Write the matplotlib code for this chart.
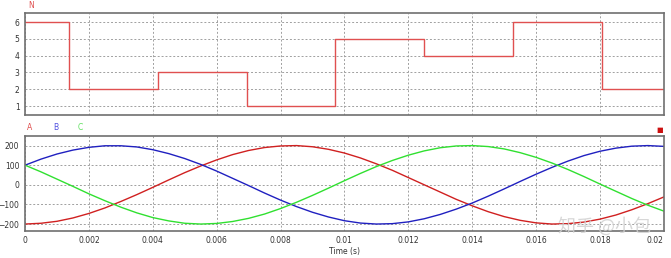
import numpy as np
import matplotlib.pyplot as plt

plt.rcParams['font.family'] = ['DejaVu Sans', 'Noto Sans CJK SC']

# sector number N (step signal)
n_t = [0, 0.00139, 0.00417, 0.00694, 0.00972, 0.0125, 0.01528, 0.01806, 0.02]
n_val = [6, 2, 3, 1, 5, 4, 6, 2, 2]

# phase voltages, sampled every 0.0005 s
t = np.arange(41) * 0.0005
va = [-200, -196, -186, -169, -146, -118, -85, -50, -13, 25, 62, 96, 127, 154,
      175, 190, 198, 200, 194, 181, 162, 137, 107, 74, 37, 0, -37, -74, -107,
      -137, -162, -181, -194, -200, -198, -190, -175, -154, -127, -96, -62]
vb = [100, 131, 157, 177, 191, 199, 199, 193, 179, 159, 134, 104, 70, 33, -4,
      -42, -78, -111, -140, -164, -183, -195, -200, -198, -189, -173, -151,
      -124, -93, -58, -21, 17, 54, 89, 121, 149, 171, 187, 197, 200, 196]
vc = [100, 66, 29, -8, -46, -81, -114, -143, -167, -184, -196, -200, -197,
      -187, -171, -149, -121, -89, -54, -17, 21, 58, 93, 124, 151, 173, 189,
      198, 200, 195, 183, 164, 140, 111, 78, 42, 4, -33, -70, -104, -134]

xticks = np.arange(0, 0.0201, 0.002)
xlabels = ['0', '0.002', '0.004', '0.006', '0.008', '0.01', '0.012', '0.014',
           '0.016', '0.018', '0.02']

fig = plt.figure(figsize=(6.71, 2.58), dpi=100)
ax1 = fig.add_axes([0.0373, 0.554, 0.952, 0.395])
ax2 = fig.add_axes([0.0373, 0.105, 0.952, 0.368])

def style(ax):
    for s in ax.spines.values():
        s.set_color('#707070')
        s.set_linewidth(1.2)
    ax.grid(True, color='#a0a0a0', linestyle=(0, (2, 2)), linewidth=0.7)
    ax.tick_params(length=0, labelsize=5.5, labelcolor='#333333', pad=4)
    ax.set_xlim(0, 0.02)
    ax.set_xticks(xticks)

style(ax1)
ax1.step(n_t, n_val, where='post', color='#e05050', lw=1)
ax1.set_ylim(0.46, 6.54)
ax1.set_yticks([1, 2, 3, 4, 5, 6])
ax1.set_xticklabels([])

style(ax2)
ax2.plot(t, va, color='#d02020', lw=1)
ax2.plot(t, vb, color='#2020c0', lw=1)
ax2.plot(t, vc, color='#30e030', lw=1)
ax2.set_ylim(-235, 249)
ax2.set_yticks([-200, -100, 0, 100, 200])
ax2.set_xticklabels(xlabels)
ax2.get_xticklabels()[-1].set_horizontalalignment('right')
ax2.set_xlabel('Time (s)', fontsize=5.5, color='#333333', labelpad=1)

fig.text(28 / 671, 1 - 6 / 258, 'N', color='#e05050', fontsize=5.5, va='center')
fig.text(27 / 671, 1 - 127 / 258, 'A', color='#e05050', fontsize=5.5, va='center')
fig.text(53 / 671, 1 - 127 / 258, 'B', color='#5050e0', fontsize=5.5, va='center')
fig.text(78 / 671, 1 - 127 / 258, 'C', color='#60e060', fontsize=5.5, va='center')
fig.text(660 / 671, 1 - 130 / 258, '■', color='#cc1010', fontsize=5, va='center',
         ha='center')
fig.text(605 / 671, 1 - 226 / 258, '知乎 @小包', color='#d0d0d0', fontsize=13,
         va='center', ha='center', alpha=0.85,
         family=['Noto Sans CJK SC', 'DejaVu Sans'])

fig.savefig('out.png', dpi=100)
